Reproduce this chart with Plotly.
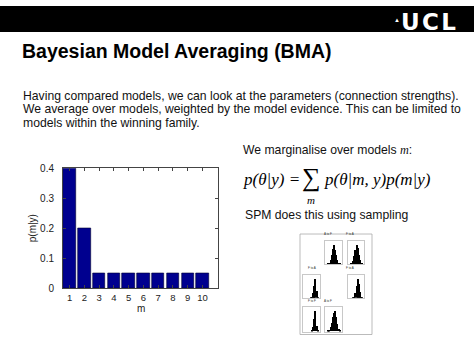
import plotly.graph_objects as go

W, H = 474, 355

# ---------------- data ----------------
models = [1, 2, 3, 4, 5, 6, 7, 8, 9, 10]
p_m_given_y = [0.4, 0.2, 0.05, 0.05, 0.05, 0.05, 0.05, 0.05, 0.05, 0.05]
y_ticks = [0, 0.1, 0.2, 0.3, 0.4]
y_tick_labels = ["0", "0.1", "0.2", "0.3", "0.4"]

# sampled posterior histograms (estimated shapes)
hist_titles = ["A to F", "F to A", "F to A", "F to A", "F to F", "A to F"]
hist_bins = [1, 2, 3, 4, 5, 6, 7, 8, 9, 10, 11, 12, 13, 14]
hist_counts = [
    [0, 0, 1, 3, 8, 18, 32, 40, 30, 18, 8, 3, 1, 0],
    [0, 0, 1, 2, 6, 16, 30, 40, 33, 20, 9, 3, 1, 0],
    [0, 0, 0, 0, 0, 0, 1, 3, 10, 26, 40, 14, 3, 0],
    [0, 0, 0, 0, 1, 3, 10, 26, 40, 30, 12, 3, 1, 0],
    [0, 0, 0, 0, 0, 0, 0, 2, 8, 24, 40, 10, 2, 0],
    [0, 0, 1, 3, 8, 16, 28, 36, 40, 28, 14, 5, 1, 0],
]

# ---------------- helpers ----------------
def px_x(x):
    return x / W

def px_y(y):
    return 1 - y / H

FONT = "Liberation Sans, Arial, sans-serif"
SERIF = "Liberation Serif, DejaVu Serif, serif"

fig = go.Figure()

# main bar chart
fig.add_trace(go.Bar(
    x=models, y=p_m_given_y, width=0.84,
    marker=dict(color="#00008F", line=dict(color="#000030", width=0.6)),
    xaxis="x", yaxis="y", showlegend=False,
))

axis_common = dict(showgrid=False, zeroline=False, showline=True,
                   linecolor="#444", linewidth=1, mirror="ticks",
                   ticks="inside", ticklen=3, tickcolor="#444",
                   tickfont=dict(family=FONT, size=10, color="#222"))

layout = dict(
    width=W, height=H, margin=dict(l=0, r=0, t=0, b=0),
    paper_bgcolor="white", plot_bgcolor="white",
    bargap=0, showlegend=False,
    xaxis=dict(domain=[px_x(63), px_x(218)], range=[0.55, 11.05],
               tickvals=models, ticktext=[str(m) for m in models],
               anchor="y", ticklabelstandoff=0, **axis_common),
    yaxis=dict(domain=[px_y(292), px_y(168)], range=[0, 0.4],
               tickvals=y_ticks, ticktext=y_tick_labels,
               anchor="x", ticklabelstandoff=6, **axis_common),
)
layout["xaxis"]["tickfont"] = dict(family=FONT, size=9.5, color="#222")

# histogram panels (pixel boxes: x0, x1, y0(top), y1(bottom))
panel_boxes = [
    (325, 342, 243, 267),
    (348, 364, 243, 267),
    (303, 320, 278, 302),
    (348, 364, 278, 302),
    (303, 320, 312, 337),
    (325, 342, 312, 337),
]
annotations = []
for i, (counts, box) in enumerate(zip(hist_counts, panel_boxes)):
    n = i + 2
    xa, ya = f"x{n}", f"y{n}"
    fig.add_trace(go.Bar(x=hist_bins, y=counts, width=1.0,
                         marker=dict(color="black", line=dict(width=0)),
                         xaxis=xa, yaxis=ya, showlegend=False))
    x0, x1, y0, y1 = box
    small = dict(showgrid=False, zeroline=False, showline=True,
                 linecolor="#c8c8c8", linewidth=0.6, mirror=True,
                 ticks="", showticklabels=False)
    layout[f"xaxis{n}"] = dict(domain=[px_x(x0), px_x(x1)], range=[0, 15], anchor=ya, **small)
    layout[f"yaxis{n}"] = dict(domain=[px_y(y1), px_y(y0)], range=[0, 48], anchor=xa, **small)
    annotations.append(dict(x=px_x((x0 + x1) / 2), y=px_y(y0 - 2.5), xref="paper", yref="paper",
                            text=hist_titles[i], showarrow=False,
                            font=dict(family=FONT, size=3, color="#333")))

fig.update_layout(**layout)

# ---------------- slide decorations ----------------
shapes = [
    dict(type="rect", xref="paper", yref="paper", x0=0, x1=1, y0=px_y(27), y1=1,
         fillcolor="black", line=dict(width=0), layer="below"),
    dict(type="rect", xref="paper", yref="paper", x0=px_x(300), x1=px_x(372),
         y0=px_y(340), y1=px_y(236), line=dict(color="#aaa", width=0.8),
         fillcolor="rgba(0,0,0,0)"),
]

def text(x, y, s, size=12, bold=False, family=FONT, color="#111", xanchor="left",
         italic=False, angle=0):
    if bold:
        s = f"<b>{s}</b>"
    if italic:
        s = f"<i>{s}</i>"
    annotations.append(dict(x=px_x(x), y=px_y(y), xref="paper", yref="paper",
                            text=s, showarrow=False, xanchor=xanchor, yanchor="middle",
                            textangle=angle,
                            font=dict(family=family, size=size, color=color)))

# axis titles of the bar chart
text(32, 230, "p(m|y)", size=10, color="#222", xanchor="center", angle=-90)
text(140.5, 313, "m", size=10, color="#222", xanchor="center")

# UCL logo
text(392, 14, "▲", size=6, color="white")
text(399, 17, "U\u200aC\u200aL", size=23, bold=True, family="DejaVu Sans, sans-serif", color="white")

# Title & body
text(20, 47, "Bayesian Model Averaging (BMA)", size=19.5, bold=True, color="black")
text(21, 93, "Having compared models, we can look at the parameters (connection strengths).", size=12.2)
text(21, 107, "We average over models, weighted by the model evidence. This can be limited to", size=12.2)
text(21, 121, "models within the winning family.", size=12.2)

# right-hand text
annotations.append(dict(x=px_x(241), y=px_y(149), xref="paper", yref="paper", xanchor="left",
                        yanchor="middle", showarrow=False,
                        text="We marginalise over models <span style='font-family:Liberation Serif'><i>m</i></span>:",
                        font=dict(family=FONT, size=12.2, color="#111")))
text(241, 180, "p(θ|y) =", size=17, family=SERIF, italic=True, color="black")
text(311, 178, "∑", size=26, family=SERIF, color="black", xanchor="center")
text(311, 201, "m", size=11, family=SERIF, italic=True, color="black", xanchor="center")
text(322, 180, "p(θ|m, y)p(m|y)", size=17, family=SERIF, italic=True, color="black")
text(243, 216, "SPM does this using sampling", size=12.2)

fig.update_layout(shapes=shapes, annotations=annotations)

fig.write_html("out.html")
